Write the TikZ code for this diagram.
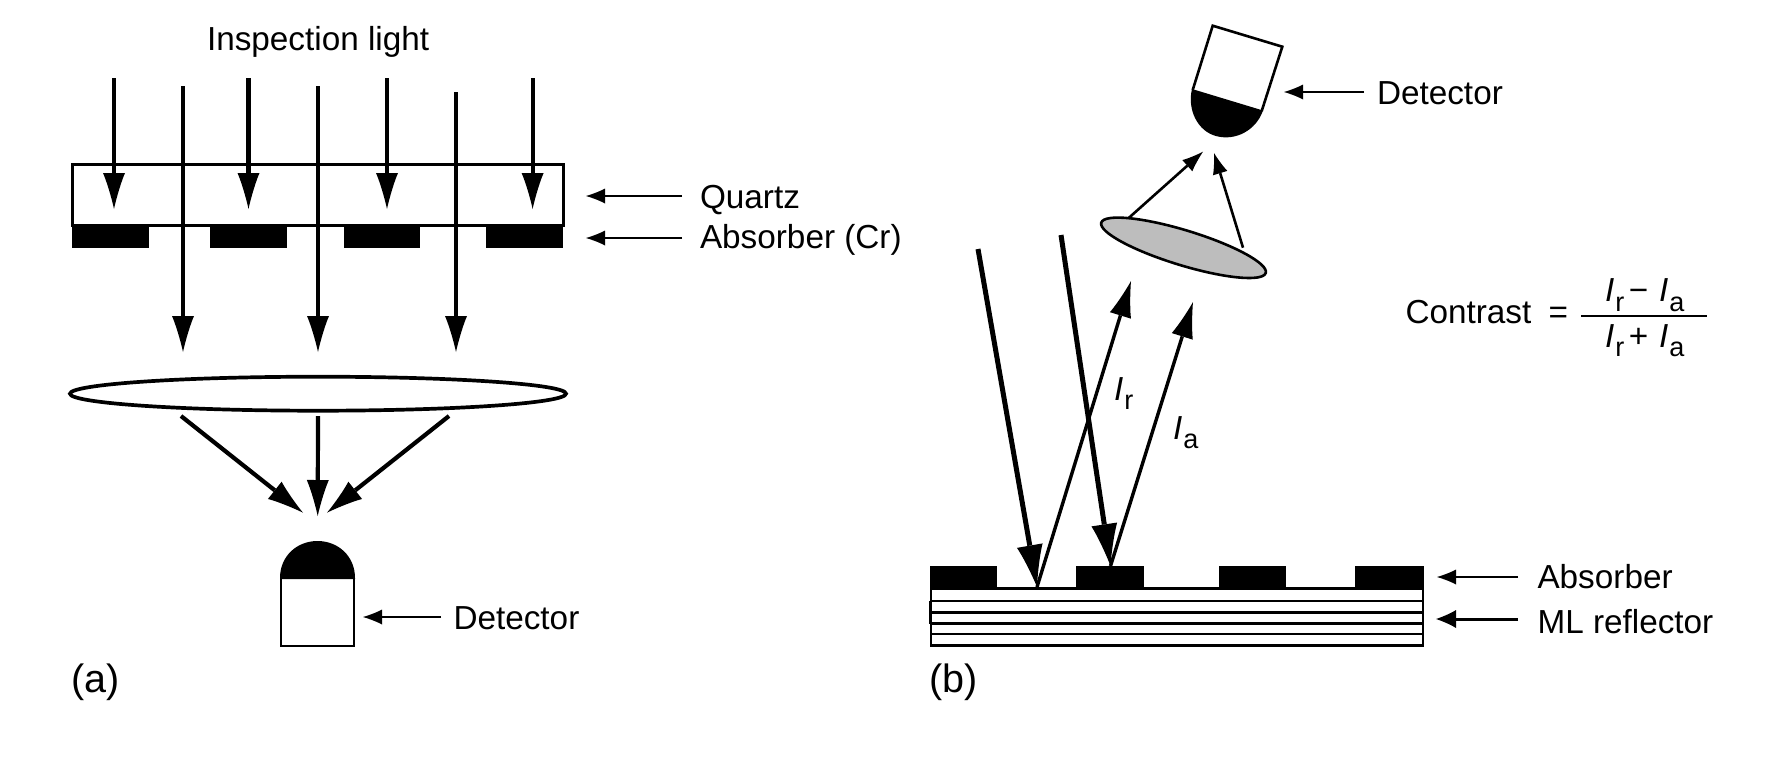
\documentclass[tikz,border=0pt]{standalone}
\usepackage{fontspec}
\setmainfont{Liberation Sans}
\usetikzlibrary{arrows.meta}
\newcommand{\Ilab}[1]{\textit{I}\kern1pt\raisebox{-9.5pt}{\fontsize{27}{27}\selectfont #1}}
\tikzset{
  lbl/.style={anchor=base west,inner sep=0pt,outer sep=0pt,font=\fontsize{33.3}{36}\selectfont,text=black},
  partcap/.style={lbl,font=\fontsize{39.5}{42}\selectfont},
  heavy/.style={line width=4.2pt,-{Latex[length=36pt,width=22pt,line width=0pt]}},
  heavyb/.style={line width=5pt,-{Latex[length=42pt,width=26pt,line width=0pt]}},
  midray/.style={line width=3.4pt,-{Latex[length=36pt,width=22pt,line width=0pt]}},
  thinray/.style={line width=2.6pt,-{Latex[length=21pt,width=15pt,line width=0pt]}},
  callout/.style={line width=2pt,-{Latex[length=19pt,width=15pt,line width=0pt]}},
  calloutb/.style={line width=3pt,-{Latex[length=20pt,width=18pt,line width=0pt]}},
  outline/.style={draw=black,line width=3pt,fill=white},
  solid black/.style={fill=black,draw=none},
}
\begin{document}
\begin{tikzpicture}[x=1pt,y=-1pt]
\useasboundingbox (0,0) rectangle (1766,761);
\fill[white] (0,0) rectangle (1766,761);

% ---------- panel (a) ----------
\draw[outline] (72.7,164.3) rectangle (563,225.7);
\foreach \xa/\xb in {72/149,210/287,344/420,486/563}
  \fill[solid black] (\xa,225) rectangle (\xb,247.7);

\foreach \n/\x in {s1/114,s2/248.5,s3/387,s4/532.6}{
  \coordinate (\n a) at (\x,78);
  \coordinate (\n b) at (\x,209);
  \draw[heavy] (\n a) -- (\n b);
}
\foreach \n/\x/\y in {l1/183/86,l2/318/86,l3/456/92}{
  \coordinate (\n a) at (\x,\y);
  \coordinate (\n b) at (\x,352);
  \draw[heavy] (\n a) -- (\n b);
}
\draw[draw=black,line width=3.7pt,fill=white] (318,393.7) ellipse [x radius=248,y radius=17];

\coordinate (f1a) at (181,416); \coordinate (f1b) at (303,512.7);
\coordinate (f2a) at (318,416); \coordinate (f2b) at (317.7,516);
\coordinate (f3a) at (449,416); \coordinate (f3b) at (327,512.7);
\draw[heavy] (f1a) -- (f1b);
\draw[heavy] (f2a) -- (f2b);
\draw[heavy] (f3a) -- (f3b);

\draw[draw=black,line width=2.6pt,fill=white] (281,578) rectangle (354,646);
\fill[black] (280,579) -- (280,578) .. controls (280,556) and (297,541) .. (317.5,541) .. controls (338,541) and (355,556) .. (355,578) -- (355,579) -- cycle;

\node[lbl] (insp) at (207,50) {Inspection light};
\node[lbl] (quartz) at (700,208) {Quartz};
\node[lbl] (cr) at (700,248) {Absorber (Cr)};
\node[lbl] (deta) at (453.5,629) {Detector};
\node[partcap] (capa) at (71,692) {(a)};
\coordinate (qt) at (586,196); \coordinate (qs) at (682,196);
\coordinate (ct) at (586,238); \coordinate (cs) at (682,238);
\coordinate (dt) at (363,617); \coordinate (ds) at (441,617);
\draw[callout] (qs) -- (qt);
\draw[callout] (cs) -- (ct);
\draw[callout] (ds) -- (dt);

% ---------- panel (b) ----------
\draw[draw=black,line width=2.6pt,fill=white] (931,589) rectangle (1423,645.5);
\foreach \y in {601,612.7,623.7,634}
  \draw[black,line width=2.6pt] (931,\y) -- (1423,\y);
\draw[black,line width=2.6pt] (930,601) -- (930,623.7);
\foreach \xa/\xb in {930/997,1076/1144,1219/1286,1355/1424}
  \fill[solid black] (\xa,566) rectangle (\xb,589);
\draw[black,line width=2.6pt] (930,588.5) -- (1424,588.5);

\coordinate (i1a) at (978,249); \coordinate (i1b) at (1037,587);
\coordinate (i2a) at (1061,235); \coordinate (i2b) at (1110.5,566);
\coordinate (r1a) at (1037,587); \coordinate (r1b) at (1131,281);
\coordinate (r2a) at (1110.5,566); \coordinate (r2b) at (1193,302);
\draw[midray] (r1a) -- (r1b);
\draw[midray] (r2a) -- (r2b);
\draw[heavyb] (i1a) -- (i1b);
\draw[heavyb] (i2a) -- (i2b);

\coordinate (t1a) at (1129,217.7); \coordinate (t1b) at (1203,151.7);
\coordinate (t2a) at (1243,247.7); \coordinate (t2b) at (1214,153);
\draw[thinray] (t1a) -- (t1b);
\draw[thinray] (t2a) -- (t2b);
\draw[draw=black,line width=2.6pt,fill=black!26,rotate around={-17:(1183.5,247.8)}] (1183.5,247.8) ellipse [x radius=86,y radius=17.5];

\draw[draw=black,line width=2.6pt,fill=white,line join=miter] (1192.7,90) -- (1212.7,25.7) -- (1282.3,46.7) -- (1261.7,111);
\fill[black] (1192,89) .. controls (1187,109.5) and (1197.6,131.5) .. (1216.6,136.2)
  .. controls (1235.6,141) and (1256,130.5) .. (1263,110.5) -- cycle;

\node[lbl] (detb) at (1377,104) {Detector};
\coordinate (db) at (1284,92); \coordinate (dc) at (1364,92);
\draw[callout] (dc) -- (db);

\node[lbl] (ir) at (1114,400) {\Ilab{r}};
\node[lbl] (ia) at (1173,439) {\Ilab{a}};

\node[lbl] (contrast) at (1405.5,323.5) {Contrast};
\node[lbl] (eq) at (1548.5,323.5) {=};
\coordinate (fa) at (1581,315.5); \coordinate (fb) at (1707,315.5);
\draw[black,line width=2pt] (fa) -- (fb);
\node[lbl] (num) at (1605,301.7) {\Ilab{r}\kern4.5pt−\kern11pt\Ilab{a}};
\node[lbl] (den) at (1605,347.3) {\Ilab{r}\kern4.5pt+\kern11pt\Ilab{a}};

\node[lbl] (abs) at (1537.5,588) {Absorber};
\node[lbl] (ml) at (1537.5,633) {ML reflector};
\node[partcap] (capb) at (929,692) {(b)};
\coordinate (at) at (1437,577); \coordinate (as) at (1518,577);
\coordinate (mt) at (1436,619); \coordinate (ms) at (1518,619);
\draw[callout] (as) -- (at);
\draw[calloutb] (ms) -- (mt);
\end{tikzpicture}
\end{document}
